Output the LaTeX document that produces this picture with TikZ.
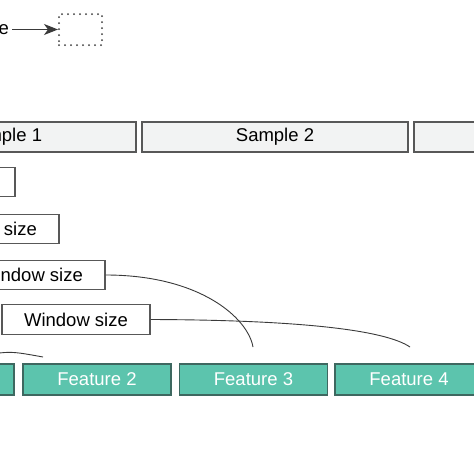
\documentclass[tikz,border=0pt]{standalone}
\usepackage{fontspec}
\setmainfont{Liberation Sans}
\usetikzlibrary{arrows.meta}
\definecolor{sampfill}{HTML}{F2F3F3}
\definecolor{boxline}{HTML}{585858}
\definecolor{featfill}{HTML}{5CC4AD}
\definecolor{featline}{HTML}{3E6860}
\definecolor{curvecol}{HTML}{3A3A3A}
\tikzset{
  boxfont/.style={font=\fontsize{18.5}{21}\selectfont},
  samplebox/.style={draw=boxline, line width=1.4pt, fill=sampfill, minimum width=266pt, minimum height=30pt, inner sep=0pt, text=black, boxfont},
  winbox/.style={draw=boxline, line width=1.4pt, fill=white, minimum width=148pt, minimum height=29.5pt, inner sep=0pt, text=black, boxfont},
  featbox/.style={draw=featline, line width=1.4pt, fill=featfill, minimum width=148pt, minimum height=31pt, inner sep=0pt, text=white, boxfont},
  link/.style={draw=curvecol, line width=0.9pt},
}
\begin{document}
\begin{tikzpicture}[x=1pt,y=-1pt]
\useasboundingbox (0,0) rectangle (474,474);
\clip (0,0) rectangle (474,474);
\fill[white] (0,0) rectangle (474,474);
% legend
\node[anchor=east, inner sep=0pt, boxfont] (lege) at (9,30) {e};
\node[draw=curvecol, line width=2pt, line cap=round, dash pattern=on 0pt off 6pt, minimum width=43pt, minimum height=31pt, inner sep=0pt] (legbox) at (80.5,29.5) {};
\coordinate (legstart) at (12,29.5);
\draw[draw=curvecol, line width=1.2pt, -{Stealth[length=14pt,width=11pt,inset=4pt]}] (legstart) -- (legbox.west);
% samples
\node[samplebox] (s1) at (3,137) {Sample 1};
\node[samplebox] (s2) at (275,137) {Sample 2};
\node[samplebox] (s3) at (547,137) {};
% windows
\node[winbox] (w0) at (-59,182) {};
\node[winbox] (w1) at (-15,229) {Window size};
\node[winbox] (w2) at (31,275) {Window size};
\node[winbox] (w3) at (76,319.5) {Window size};
% features
\node[featbox] (f1) at (-60,379.5) {};
\node[featbox] (f2) at (97,379.5) {Feature 2};
\node[featbox] (f3) at (253.5,379.5) {Feature 3};
\node[featbox] (f4) at (409,379.5) {Feature 4};
% connectors
\coordinate (c2end) at (253,347);
\coordinate (c3end) at (410,347);
\coordinate (c1start) at (-20,356);
\coordinate (c1end) at (43,357);
\draw[link] (w2.east) .. controls (200,275) and (248,318) .. (c2end);
\draw[link] (w3.east) .. controls (300,320) and (385,330) .. (c3end);
\draw[link] (c1start) .. controls (10,351) .. (c1end);
\end{tikzpicture}
\end{document}
